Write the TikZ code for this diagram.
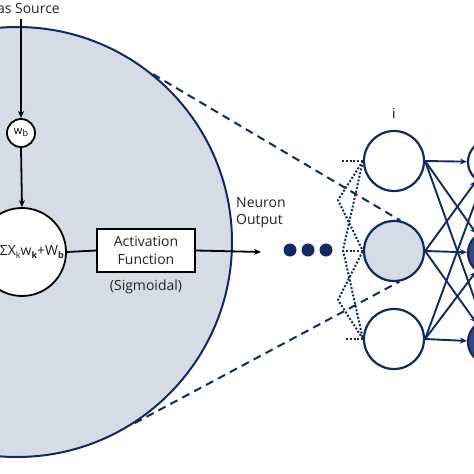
\documentclass[tikz,border=0pt]{standalone}
\usepackage{fontspec}
\setmainfont{Open Sans}
\usetikzlibrary{arrows.meta}
\definecolor{navy}{RGB}{20,40,100}
\definecolor{pale}{RGB}{214,220,229}
\definecolor{txt}{RGB}{35,35,35}
\newcommand\sbs[1]{\raisebox{-0.35ex}{\fontsize{9}{9}\selectfont #1}}
\begin{document}
\begin{tikzpicture}[x=1pt,y=-1pt,
  lbl/.style={text=txt,font=\fontsize{14}{17}\selectfont,inner sep=0pt},
  blk/.style={draw=black,line width=1.8pt},
  arr/.style={-{Stealth[length=7pt,width=6pt]}},
  neur/.style={circle,draw=navy,line width=2.2pt,minimum size=60pt,inner sep=0pt,fill=white},
  outn/.style={circle,draw=navy,line width=2.2pt,minimum size=44pt,inner sep=0pt},
  dotl/.style={draw=navy,line width=2pt,dash pattern=on 2pt off 1.8pt},
  dashl/.style={draw=navy,line width=2pt,dash pattern=on 8pt off 5.5pt},
  ]
\useasboundingbox (0,0) rectangle (474,474);
\clip (0,0) rectangle (474,474);
\fill[white] (0,0) rectangle (474,474);
% big neuron
\node[circle,draw=navy,fill=pale,line width=2pt,minimum size=430pt,inner sep=0pt] (big) at (17,242) {};
% bias
\node[lbl,anchor=east] (bias) at (60,8) {Bias Source};
\coordinate (bs) at (21,19);
\node[circle,blk,fill=white,minimum size=28pt,inner sep=0pt,font=\fontsize{11}{11}\selectfont] (wb) at (21,133) {w\sbs{b}};
\node[circle,blk,fill=white,minimum size=88pt,inner sep=0pt] (s) at (22,252) {};
\node[lbl,anchor=east] (sumt) at (64,252) {ΣX\sbs{k}w\sbs{\textbf{k}}+W\sbs{\textbf{b}}};
\draw[blk,arr] (bs) -- (wb.north);
\draw[blk,arr] (wb.south) -- (s.north);
% activation
\node[blk,fill=white,minimum width=98pt,minimum height=43pt,align=center,lbl,line width=2pt] (act) at (146,250.5) {Activation\\[1pt]Function};
\node[lbl] (sig) at (146,287) {(Sigmoidal)};
\draw[blk] (s.east) -- (act.west);
\coordinate (out) at (261,252);
\draw[blk,arr] (act.east) -- (out);
\node[lbl,anchor=west,align=left] (no) at (236,213) {Neuron\\Output};
% dots
\foreach \k/\x in {1/290,2/308,3/326}
  \node[circle,fill=navy,minimum size=13pt,inner sep=0pt] (d\k) at (\x,250) {};
% layer i
\node[lbl,text=black] (il) at (394,113) {i};
\node[neur] (i1) at (394,161) {};
\node[neur,fill=pale] (i2) at (394,251) {};
\node[neur] (i3) at (394,339) {};
% next layer
\node[outn,fill=white] (o1) at (490,162) {};
\node[outn,fill=navy!85!white] (o2) at (490,253) {};
\node[outn,fill=navy!85!white] (o3) at (490,342) {};
\foreach \a in {1,2,3}
  \foreach \b in {1,2,3}
    \draw[navy,line width=1.9pt,arr] (i\a.east) -- (o\b);
% dashed zoom lines
\draw[dashl] (big.51) -- (i2.78);
\draw[dashl] (big.-57) -- (i2.-80);
% dotted inputs
\coordinate (t0) at (342,161);
\coordinate (m0) at (342,251);
\coordinate (b0) at (346,339);
\coordinate (za) at (338,200);
\coordinate (zb) at (338,300);
\coordinate (zc) at (343,250);
\draw[dotl] (t0) -- (i1.west);
\draw[dotl] (m0) -- (i2.west);
\draw[dotl] (b0) -- (i3.west);
\draw[dotl] (i1.west) -- (za) -- (i2.west);
\draw[dotl] (i3.west) -- (zb) -- (i2.west);
\draw[dotl] (i1.west) -- (zc) -- (i3.west);
\end{tikzpicture}
\end{document}
